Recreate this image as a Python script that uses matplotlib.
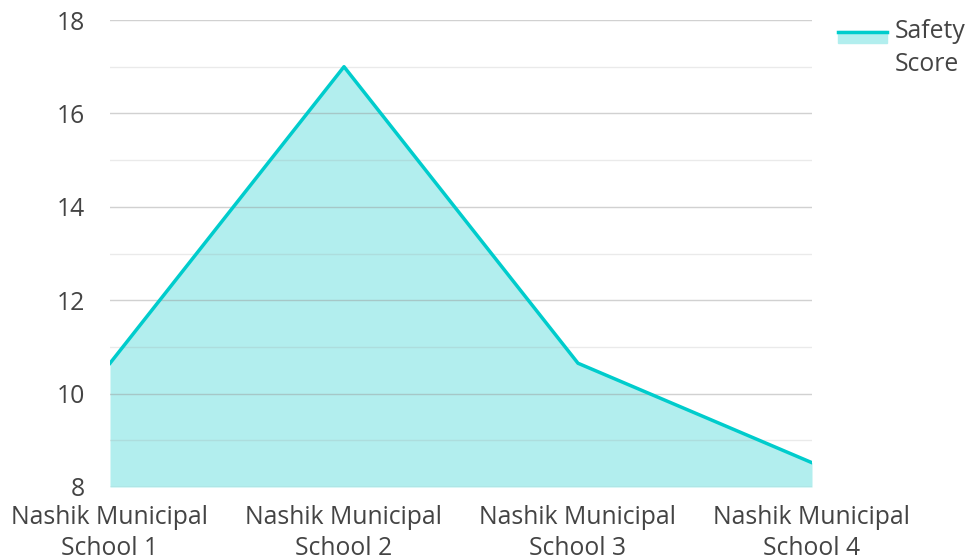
import matplotlib.pyplot as plt
from matplotlib.patches import Rectangle
from matplotlib.lines import Line2D

# ==========================
# DATA
# ==========================

schools = [
    "Nashik Municipal\nSchool 1",
    "Nashik Municipal\nSchool 2",
    "Nashik Municipal\nSchool 3",
    "Nashik Municipal\nSchool 4",
]

safety_score = [10.65, 17.0, 10.65, 8.52]

line_color = "#00cccc"
fill_color = "#b2eeee"
text_color = "#444444"
font_size = 17.8

plt.rcParams["font.family"] = ["Open Sans", "DejaVu Sans"]

fig = plt.figure(figsize=(9.7, 5.6), dpi=100)
ax = fig.add_axes([110 / 970, 1 - 487 / 560, 702 / 970, 467 / 560])

x = list(range(len(schools)))

ax.fill_between(x, safety_score, 8, color=fill_color, zorder=1, linewidth=0)
ax.plot(x, safety_score, color=line_color, linewidth=2.5, zorder=3)

# gridlines on top of the fill, like the original
for v in range(8, 19):
    if v % 2 == 0:
        ax.axhline(v, color="#999999", alpha=0.45, linewidth=1, zorder=2)
    else:
        ax.axhline(v, color="#999999", alpha=0.2, linewidth=1, zorder=2)

ax.set_xlim(0, len(schools) - 1)
ax.set_ylim(8, 18)
ax.set_yticks(range(8, 19, 2))
ax.set_xticks(x)
ax.set_xticklabels(schools)

ax.tick_params(axis="both", length=0, labelsize=font_size, colors=text_color)
ax.tick_params(axis="y", pad=18)
ax.tick_params(axis="x", pad=13)
for lbl in ax.get_xticklabels():
    lbl.set_linespacing(1.3)

for s in ax.spines.values():
    s.set_visible(False)

# ==========================
# LEGEND
# ==========================

fig.patches.append(Rectangle((838 / 970, 1 - 43 / 560), 49 / 970, 12 / 560,
                             transform=fig.transFigure, color=fill_color))
fig.lines.append(Line2D([838 / 970, 887 / 970], [1 - 32 / 560, 1 - 32 / 560],
                        transform=fig.transFigure, color=line_color, linewidth=2.5))
fig.text(895 / 970, 1 - 48 / 560, "Safety\nScore", fontsize=font_size,
         color=text_color, va="center", ha="left", linespacing=1.38)

fig.savefig("out.png", dpi=100)
